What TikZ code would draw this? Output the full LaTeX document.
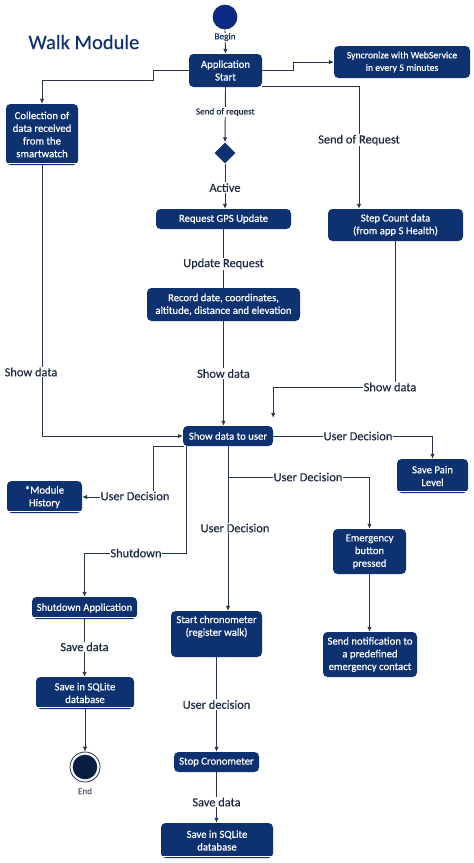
\documentclass[tikz,border=0pt]{standalone}
\usepackage{fontspec}
\setmainfont{Carlito}
\newfontfamily\bxf{Carlito}[FakeBold=0.5]
\newfontfamily\lbf{Carlito}[FakeBold=0.25]
\usetikzlibrary{shapes.geometric,arrows.meta,backgrounds,calc}
\definecolor{navy}{HTML}{0E3270}
\definecolor{linec}{HTML}{27344E}
\definecolor{labc}{HTML}{1E2A42}
\tikzset{
  box/.style={fill=navy, text=white, rounded corners=4.5pt, align=center, inner sep=1pt,
    font=\bxf\fontsize{10.7}{12.7}\selectfont},
  conn/.style={draw=linec, line width=0.9pt},
  arr/.style={conn, -{Latex[length=5pt,width=4.5pt]}},
  lab/.style={fill=white, text=labc, inner sep=0.8pt, font=\lbf\fontsize{12.4}{14}\selectfont},
  slab/.style={fill=white, text=labc, inner sep=0.8pt, font=\lbf\fontsize{9.2}{10}\selectfont},
}
\newcommand\sqb[1]{\fill[navy] ([yshift=6pt]#1.south west) rectangle (#1.south east);}
\newcommand\wln[1]{\draw[white, line width=0.6pt] ([xshift=1.2pt,yshift=2.2pt]#1.south west) -- ([xshift=-1.2pt,yshift=2.2pt]#1.south east);}
\begin{document}
\begin{tikzpicture}[x=1pt,y=-1pt]
\useasboundingbox (0,0) rectangle (474,863);
\fill[white] (0,0) rectangle (474,863);

% title
\node[text=navy, font=\lbf\fontsize{20.5}{24}\selectfont, anchor=west] (title) at (25,42) {Walk Module};

% start / end
\node[circle, fill=navy!85!blue, draw=navy!70!black, line width=0.6pt, minimum size=24pt, inner sep=0] (begin) at (225,17) {};
\node[diamond, fill=navy, minimum width=21pt, minimum height=21pt, inner sep=0] (dia) at (225,153) {};
\node[circle, draw=linec, line width=0.8pt, fill=white, minimum size=30pt, inner sep=0] (end) at (85,767) {};
\fill[navy!60!black] (end.center) circle (12.3pt);

% boxes
\node[box, minimum width=73pt, minimum height=33pt] (app) at (225.5,70.5) {Application\\Start};
\node[box, minimum width=136pt, minimum height=32pt, font=\bxf\fontsize{9.7}{12.5}\selectfont] (sync) at (402,62) {Syncronize with WebService\\in every 5 minutes};
\node[box, minimum width=72pt, minimum height=61pt] (coll) at (42,134.5) {Collection of\\data received\\from the\\smartwatch};
\node[box, minimum width=135pt, minimum height=20pt] (gps) at (223.5,219) {Request GPS Update};
\node[box, minimum width=135pt, minimum height=32pt] (step) at (395.5,225) {Step Count data\\(from app S Health)};
\node[box, minimum width=153pt, minimum height=33pt] (rec) at (223.5,304.5) {Record date, coordinates,\\altitude, distance and elevation};
\node[box, minimum width=90pt, minimum height=20pt] (user) at (228,436) {Show data to user};
\node[box, minimum width=71pt, minimum height=34pt] (pain) at (432.5,476) {Save Pain\\Level};
\node[box, minimum width=75pt, minimum height=32pt] (hist) at (44.5,497) {*Module\\History};
\node[box, minimum width=73pt, minimum height=45pt] (emerg) at (369.5,551.5) {Emergency\\button\\pressed};
\node[box, minimum width=94pt, minimum height=45pt] (notif) at (370,654.5) {Send notification to\\a predefined\\emergency contact};
\node[box, minimum width=105pt, minimum height=22pt] (shut) at (84.5,608) {Shutdown Application};
\node[box, minimum width=98pt, minimum height=32pt] (sqla) at (85,693) {Save in SQLite\\database};
\node[box, minimum width=91pt, minimum height=46pt] (chrono) at (216.5,634) {Start chronometer\\(register walk)\\\strut};
\node[box, minimum width=85pt, minimum height=20pt] (stop) at (216.5,762) {Stop Cronometer};
\node[box, minimum width=112pt, minimum height=35pt] (sqlb) at (217,840.5) {Save in SQLite\\database};

\begin{scope}[on background layer]
\foreach \n in {app,sync,coll,gps,step,rec,user,pain,hist,emerg,notif,shut,sqla,chrono,stop,sqlb}{\sqb{\n}}
\end{scope}
\foreach \n in {coll,pain,hist,shut,sqla,sqlb}{\wln{\n}}

% begin label and connector
\draw[arr] (begin.south) -- (app.north);
\node[text=navy, font=\lbf\fontsize{9.3}{10}\selectfont, fill=white, inner sep=0.5pt] (beginlab) at (225,37) {Begin};
\node[text=labc!80!white, font=\lbf\fontsize{9}{10}\selectfont] (endlab) at (85,791) {End};

% connectors
\draw[arr] (app.east) -- ++(31,0) |- (sync.west);
\draw[arr] (app.west) -| (153,80) -| (coll.north);
\draw[arr] (app.south) -- node[slab, pos=0.45] (l1) {Send of request} (dia.north);
\draw[arr] ([yshift=1pt]app.south east) -| node[lab, pos=0.72] (l2) {Send of Request} ([xshift=-36.5pt]step.north);
\draw[arr] (dia.south) -- node[lab, pos=0.53] (l3) {Active} (dia.south |- gps.north);
\draw[conn] (gps.south) -- node[lab, pos=0.59] (l4) {Update Request} (gps.south |- rec.north);
\draw[arr] (rec.south) -- node[lab, pos=0.50] (l5) {Show data} (rec.south |- user.north);
\draw[arr] (coll.south) |- (user.west);
\node[lab] (l6) at (31,372) {Show data};
\draw[arr] (step.south) -- ++(0,146) -| ([yshift=8pt]user.north east);
\node[lab] (l7) at (390,387) {Show data};
\draw[arr] (user.east) -| (pain.north);
\node[lab] (l8) at (358,436) {User Decision};
\draw[arr] ([xshift=1pt]user.south west) -- ++(-30,0) |- (hist.east);
\node[lab] (l9) at (135,496) {User Decision};
\draw[arr] ([xshift=4pt]user.south west) -- ++(0,107) -| (shut.north);
\node[lab] (l10) at (136,553) {Shutdown};
\draw[arr] (user.south) -- (user.south |- chrono.north);
\node[lab] (l11) at (235,528) {User Decision};
\draw[arr] (user.south) -- ++(0,31) -| (emerg.north);
\node[lab] (l12) at (308,477) {User Decision};
\draw[arr] (emerg.south) -- (emerg.south |- notif.north);
\draw[arr] (shut.south) -- node[lab, pos=0.48] (l13) {Save data} (shut.south |- sqla.north);
\draw[arr] (sqla.south) -- (end.north);
\draw[arr] (chrono.south) -- node[lab, pos=0.5] (l14) {User decision} (chrono.south |- stop.north);
\draw[arr] (stop.south) -- node[lab, pos=0.59] (l15) {Save data} (stop.south |- sqlb.north);
\end{tikzpicture}
\end{document}
